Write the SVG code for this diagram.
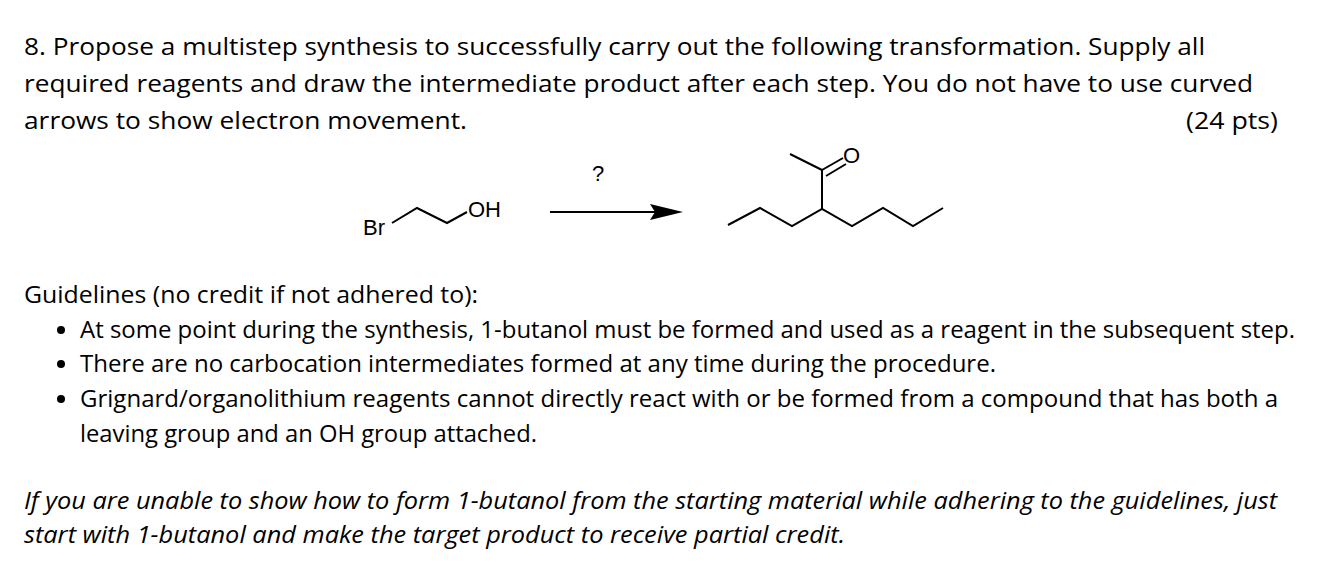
<svg xmlns="http://www.w3.org/2000/svg" width="1343" height="587" viewBox="0 0 1343 587">
<style>
.t{font-family:"Open Sans",sans-serif;font-size:23px;fill:#000}
.i{font-style:italic}
.c{font-family:"Liberation Sans",Arial,sans-serif;font-size:22px;fill:#000}
.b{stroke:#000;stroke-width:2;fill:none;stroke-linejoin:miter}
</style>
<rect width="1343" height="587" fill="#fff"/>
<g id="text">
<text class="t" x="24" y="55" textLength="1181" lengthAdjust="spacingAndGlyphs">8. Propose a multistep synthesis to successfully carry out the following transformation. Supply all</text>
<text class="t" x="24" y="92" textLength="1229" lengthAdjust="spacingAndGlyphs">required reagents and draw the intermediate product after each step. You do not have to use curved</text>
<text class="t" x="24" y="129" textLength="443" lengthAdjust="spacingAndGlyphs">arrows to show electron movement.</text>
<text class="t" x="1186" y="129" textLength="92" lengthAdjust="spacingAndGlyphs">(24 pts)</text>
<text class="t" x="24" y="303" textLength="454" lengthAdjust="spacingAndGlyphs">Guidelines (no credit if not adhered to):</text>
<circle cx="61" cy="330" r="4"/><circle cx="61" cy="364" r="4"/><circle cx="61" cy="399" r="4"/>
<text class="t" x="80" y="338" textLength="1215" lengthAdjust="spacingAndGlyphs">At some point during the synthesis, 1-butanol must be formed and used as a reagent in the subsequent step.</text>
<text class="t" x="80" y="372" textLength="916" lengthAdjust="spacingAndGlyphs">There are no carbocation intermediates formed at any time during the procedure.</text>
<text class="t" x="80" y="407" textLength="1198" lengthAdjust="spacingAndGlyphs">Grignard/organolithium reagents cannot directly react with or be formed from a compound that has both a</text>
<text class="t" x="80" y="442" textLength="457" lengthAdjust="spacingAndGlyphs">leaving group and an OH group attached.</text>
<text class="t i" x="24" y="509" textLength="1253" lengthAdjust="spacingAndGlyphs">If you are unable to show how to form 1-butanol from the starting material while adhering to the guidelines, just</text>
<text class="t i" x="24" y="543" textLength="821" lengthAdjust="spacingAndGlyphs">start with 1-butanol and make the target product to receive partial credit.</text>
</g>
<g id="start">
<text class="c" x="363" y="235">Br</text>
<polyline class="b" points="392,223 417,208 447,223 467,212"/>
<text class="c" x="468" y="217">OH</text>
</g>
<g id="connectors">
<line class="b" x1="550" y1="212" x2="655" y2="212"/>
<polygon points="650,204 683,212 650,220 655,212"/>
<text class="c" x="592" y="181" font-size="20">?</text>
</g>
<g id="product">
<polyline class="b" points="728,225 760,208 792,226 822,209 852,226 883,208 913,226 943,208"/>
<line class="b" x1="822" y1="209" x2="822" y2="170"/>
<line class="b" x1="790" y1="154" x2="822" y2="170"/>
<line class="b" x1="822" y1="170" x2="843" y2="158"/>
<line class="b" x1="826" y1="176" x2="846" y2="164"/>
<text class="c" x="843" y="163">O</text>
</g>
</svg>
